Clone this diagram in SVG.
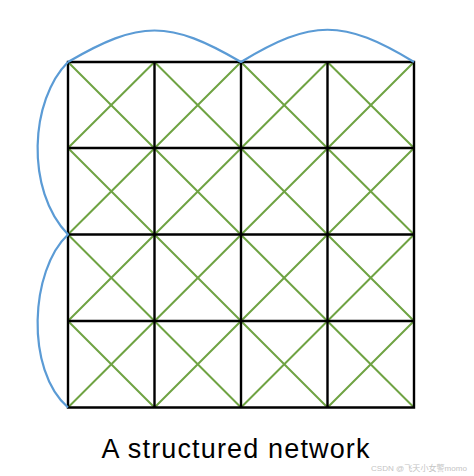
<svg xmlns="http://www.w3.org/2000/svg" width="474" height="476" viewBox="0 0 474 476">
<style>
.grid{stroke:#000;stroke-width:2.4;fill:none;stroke-linecap:square}
.diag{stroke:#6fa343;stroke-width:2;fill:none}
.curve{stroke:#5b9bd5;stroke-width:2.2;fill:none;stroke-linejoin:round}
.title{font-family:"Liberation Sans",Arial,sans-serif;font-size:27px;fill:#000}
.wm{font-family:"Liberation Sans","Noto Sans CJK SC",sans-serif;font-size:8px;fill:#c4c4c4}
</style>
<rect width="474" height="476" fill="#fff"/>
<g id="diagonals">
<path class="diag" d="M68,62 L414,407.5 M154.5,62 L414,321 M241,62 L414,234.5 M327.5,62 L414,148 M68,148 L327.5,407.5 M68,234.5 L241,407.5 M68,321 L154.5,407.5"/>
<path class="diag" d="M414,62 L68,407.5 M327.5,62 L68,321 M241,62 L68,234.5 M154.5,62 L68,148 M414,148 L154.5,407.5 M414,234.5 L241,407.5 M414,321 L327.5,407.5"/>
</g>
<g id="grid">
<path class="grid" d="M68,62 H414 M68,148 H414 M68,234.5 H414 M68,321 H414 M68,407.5 H414 M68,62 V407.5 M154.5,62 V407.5 M241,62 V407.5 M327.5,62 V407.5 M414,62 V407.5"/>
</g>
<g id="connectors">
<path class="curve" d="M68,62 C140,20 169,20 241,62 C312,19 343,19 414,62"/>
<path class="curve" d="M68,62 C30,100 25,190 68,234.5 C30,270 25,370 68,407.5"/>
</g>
<text class="title" x="235.5" y="458" text-anchor="middle" textLength="268" lengthAdjust="spacing">A structured network</text>
<text class="wm" x="371" y="471" textLength="96" lengthAdjust="spacingAndGlyphs">CSDN @飞天小女警momo</text>
</svg>
